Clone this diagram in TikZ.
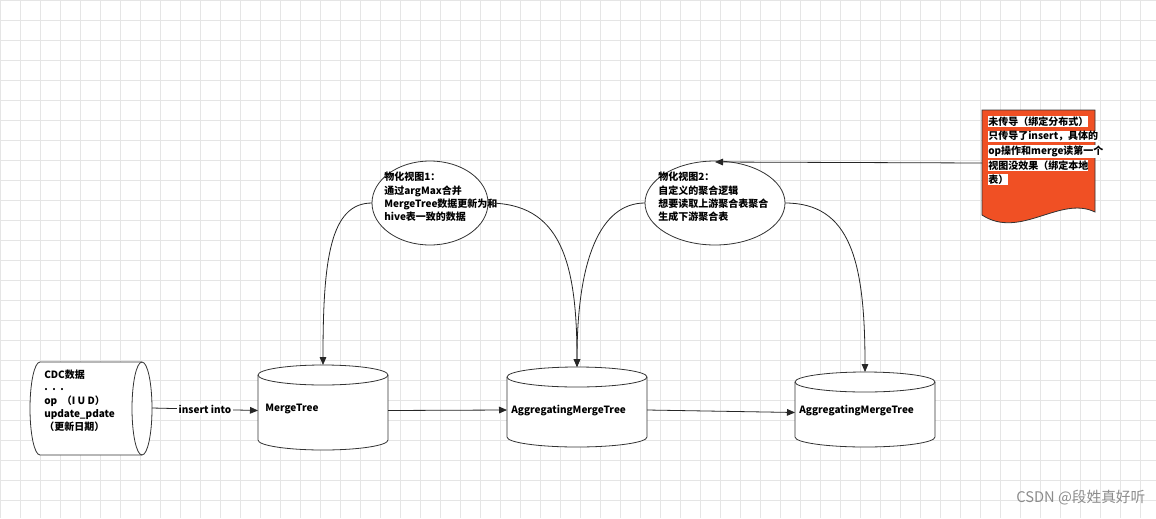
\documentclass[tikz,border=0pt]{standalone}
\usepackage{fontspec}
\setmainfont{Noto Sans CJK SC}
\usetikzlibrary{arrows.meta}
\begin{document}
\begin{tikzpicture}[x=0.75pt,y=-0.75pt,
  lbl/.style={font=\fontsize{7.5}{10}\selectfont\bfseries,align=left,inner sep=0pt},
  conn/.style={draw=black!85,line width=0.6pt,-{Triangle[length=6pt,width=5pt]}},
  shp/.style={draw=black!80,line width=0.6pt}]
\useasboundingbox (0,0) rectangle (1156,518);
\fill[white] (0,0) rectangle (1156,518);
\foreach \gx in {0,20,...,1160} \draw[black!10,line width=0.5pt] (\gx,0) -- (\gx,518);
\foreach \gy in {0,20,...,520} \draw[black!10,line width=0.5pt] (0,\gy) -- (1156,\gy);
% CDC horizontal cylinder
\draw[shp,fill=white] (40,362) -- (142,362) arc[start angle=-90,end angle=90,x radius=10,y radius=46.5] -- (40,455) arc[start angle=90,end angle=270,x radius=10,y radius=46.5];
\draw[shp] (142,362) arc[start angle=-90,end angle=-270,x radius=10,y radius=46.5];
\coordinate (cdcR) at (152,408);
\node[lbl,anchor=north west] (cdc) at (44,370) {CDC数据\\[-1pt] .\ \ .\ \ .\\ op\ \ （I U D）\\ update\_pdate\\ （更新日期）};
% vertical cylinders
\foreach \n/\xa/\xb/\ya/\yb in {mt/258/388/365/450, ag1/507/647/367/447, ag2/795/935/372/447}{
  \draw[shp,fill=white] (\xa,\ya+10) -- (\xa,\yb-10) arc[start angle=180,end angle=0,x radius={(\xb-\xa)/2},y radius=10] -- (\xb,\ya+10) arc[start angle=0,end angle=-180,x radius={(\xb-\xa)/2},y radius=10];
  \draw[shp] (\xa,\ya+10) arc[start angle=180,end angle=0,x radius={(\xb-\xa)/2},y radius=10];
  \coordinate (\n T) at ({(\xa+\xb)/2},\ya);
  \coordinate (\n L) at (\xa,{(\ya+\yb)/2+3});
  \coordinate (\n R) at (\xb,{(\ya+\yb)/2+3});
}
\node[lbl,anchor=west] (mtl) at (265,409) {MergeTree};
\node[lbl,anchor=west] (ag1l) at (511,411) {AggregatingMergeTree};
\node[lbl,anchor=west] (ag2l) at (799,411) {AggregatingMergeTree};
% ellipses
\draw[shp,fill=white] (430,203) ellipse[x radius=58,y radius=42];
\draw[shp,fill=white] (715,203) ellipse[x radius=70,y radius=42];
\coordinate (e1L) at (372,203); \coordinate (e1R) at (488,203);
\coordinate (e2L) at (645,203); \coordinate (e2R) at (785,203);
\node[lbl,anchor=north west] (v1) at (384,172) {物化视图1：\\通过argMax合并\\MergeTree数据更新为和\\hive表一致的数据};
\node[lbl,anchor=north west] (v2) at (658,172) {物化视图2：\\自定义的聚合逻辑\\想要读取上游聚合表聚合\\生成下游聚合表};
% document shape
\draw[shp,fill={rgb,255:red,240;green,80;blue,36}] (982,110) -- (1095,110) -- (1095,212) .. controls (1060,195) and (1020,240) .. (982,215) -- cycle;
\coordinate (docL) at (982,163);
\foreach \t [count=\i] in {未传导（绑定分布式）,只传导了insert，具体的,op操作和merge读第一个,视图没效果（绑定本地,表）}{
  \node[lbl,fill=white,anchor=north west,inner ysep=0.5pt] at (988,{116+(\i-1)*14.5}) {\t};
}
% connectors
\draw[conn] (cdcR) -- node[lbl,fill=white,inner sep=1pt]{insert into} (mtL);
\draw[conn] (mtR) -- (ag1L);
\draw[conn] (ag1R) -- (ag2L);
\draw[conn] (e1L) .. controls (330,203) and (323,260) .. (mtT);
\draw[conn] (e1R) .. controls (560,203) and (577,260) .. (ag1T);
\draw[conn] (e2L) .. controls (600,203) and (577,260) .. (ag1T);
\draw[conn] (e2R) .. controls (850,203) and (865,260) .. (ag2T);
\draw[conn] (docL) -- (715,162);
\node[font=\fontsize{11}{12}\selectfont,text=black!45,anchor=south east] (wm) at (1150,510) {CSDN @段姓真好听};
\end{tikzpicture}
\end{document}
